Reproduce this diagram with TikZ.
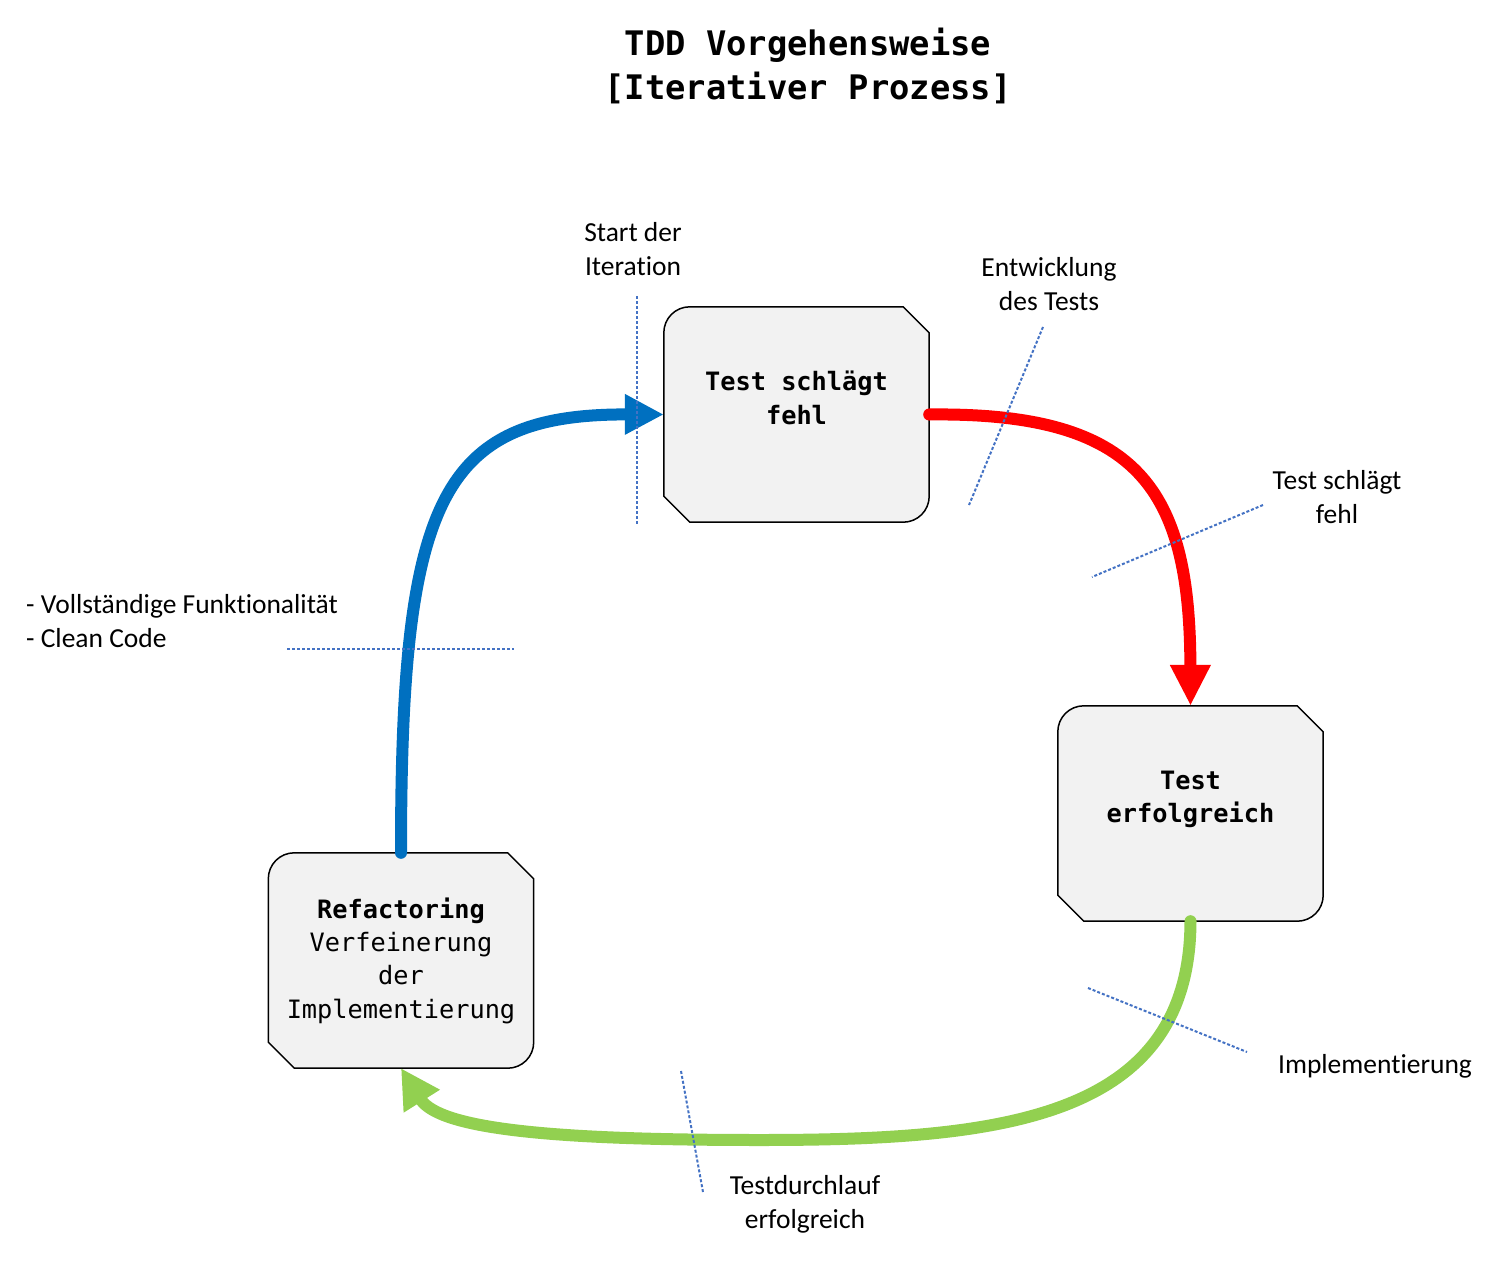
\documentclass[tikz,border=0pt]{standalone}
\usepackage{fontspec}
\setmainfont{Carlito}[Ligatures=NoCommon]
\newfontfamily\tddmono{DejaVu Sans Mono}
\usetikzlibrary{arrows.meta,calc,backgrounds}
\definecolor{tddblue}{HTML}{0070C0}
\definecolor{tddred}{HTML}{FF0000}
\definecolor{tddgreen}{HTML}{92D050}
\definecolor{guideblue}{HTML}{4472C4}
\definecolor{boxfill}{HTML}{F2F2F2}
\newcommand\tddoutline[1]{%
  \draw[boxline] ($(#1.north west)+(0,26)$) .. controls ($(#1.north west)+(0,11.6)$) and ($(#1.north west)+(11.6,0)$) .. ($(#1.north west)+(26,0)$)
    -- ($(#1.north east)+(-26,0)$) -- ($(#1.north east)+(0,26)$)
    -- ($(#1.south east)+(0,-26)$) .. controls ($(#1.south east)+(0,-11.6)$) and ($(#1.south east)+(-11.6,0)$) .. ($(#1.south east)+(-26,0)$)
    -- ($(#1.south west)+(26,0)$) -- ($(#1.south west)+(0,-26)$) -- cycle;}
\begin{document}
\begin{tikzpicture}[x=1pt,y=-1pt,
  stepbox/.style={rectangle, minimum width=265pt, minimum height=215pt, inner sep=0pt, align=center,
    font=\tddmono\fontsize{25.3}{33.3}\selectfont},
  boxline/.style={draw=black, line width=1.5pt, fill=boxfill},
  lbl/.style={align=center, inner sep=0pt, font=\fontsize{27.5}{34}\selectfont},
  flow/.style={line width=12pt, line cap=round},
  guide/.style={draw=guideblue, line width=2pt, dash pattern=on 3pt off 2pt}]
\useasboundingbox (0,0) rectangle (1500,1263);

% title
\node[align=center, inner sep=0pt, font=\tddmono\bfseries\fontsize{33.8}{44}\selectfont] (title) at (808,66)
  {TDD Vorgehensweise\\{[}Iterativer Prozess{]}};

% boxes
\node[stepbox] (b1) at (796.5,414.5) {\textbf{Test schlägt}\\\textbf{fehl}\\\mbox{}};
\node[stepbox] (b2) at (1190.5,813.5) {\textbf{Test}\\\textbf{erfolgreich}\\\mbox{}};
\node[stepbox] (b3) at (401,960.5) {\textbf{Refactoring}\\Verfeinerung\\der\\Implementierung};
\begin{scope}[on background layer]
  \fill[white] (0,0) rectangle (1500,1263);
  \tddoutline{b1}
  \tddoutline{b2}
  \tddoutline{b3}
\end{scope}

% flow arrows
\draw[flow, tddblue, -{Triangle[length=39pt,width=38pt]}] (b3.north) .. controls (401,500) and (440,414) .. (b1.west);
\draw[flow, tddred, -{Triangle[length=41pt,width=38pt]}] (b1.east) .. controls (1140,412) and (1190,490) .. (b2.north);
\draw[flow, tddgreen, -{Triangle[length=39pt,width=40pt]}] (b2.south) .. controls (1190,1120) and (1000,1140) .. (760,1140)
  .. controls (560,1140) and (440,1130) .. (b3.south);

% labels
\node[lbl] (l1) at (633,249) {Start der\\Iteration};
\node[lbl] (l2) at (1049,284) {Entwicklung\\des Tests};
\node[lbl] (l3) at (1337,497) {Test schlägt\\fehl};
\node[lbl, align=left, anchor=west] (l4) at (26,621) {- Vollständige Funktionalität\\- Clean Code};
\node[lbl] (l5) at (1375,1066) {Implementierung};
\node[lbl] (l6) at (805,1204) {Testdurchlauf\\erfolgreich};

% guide lines
\coordinate (g1a) at (637,296); \coordinate (g1b) at (637,524);
\coordinate (g2a) at (1043,327); \coordinate (g2b) at (969,505);
\coordinate (g3a) at (1263,505); \coordinate (g3b) at (1092,577);
\coordinate (g4a) at (287,649); \coordinate (g4b) at (514,649);
\coordinate (g5a) at (1088,988); \coordinate (g5b) at (1247,1052);
\coordinate (g6a) at (681,1071); \coordinate (g6b) at (703,1192);
\draw[guide] (g1a) -- (g1b);
\draw[guide] (g2a) -- (g2b);
\draw[guide] (g3a) -- (g3b);
\draw[guide] (g4a) -- (g4b);
\draw[guide] (g5a) -- (g5b);
\draw[guide] (g6a) -- (g6b);
\end{tikzpicture}
\end{document}
